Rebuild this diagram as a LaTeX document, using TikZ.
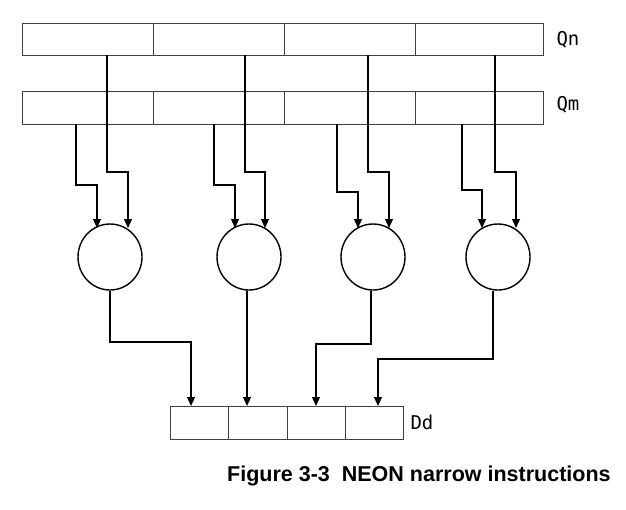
\documentclass[tikz,border=0pt]{standalone}
\usepackage{fontspec}
\setmainfont{Liberation Sans}
\newfontfamily\lblfont{DejaVu Sans Mono}
\usetikzlibrary{arrows.meta,shapes.geometric}
\begin{document}
\begin{tikzpicture}[x=1pt,y=-1pt,
  reg/.style={draw=black!75,line width=1.2pt},
  op/.style={draw,line width=1.4pt,ellipse,minimum width=64pt,minimum height=66pt,inner sep=0pt},
  wire/.style={line width=1.1pt},
  arr/.style={wire,-{Triangle[length=9pt,width=8pt]}},
  lbl/.style={font=\lblfont\fontsize{19}{22}\selectfont,anchor=west}]
\useasboundingbox (0,0) rectangle (626,509);
% Qn
\foreach \i/\a/\b in {1/22/153,2/153/284,3/284/415,4/415/543}
  \node[reg,minimum width={\b-\a},minimum height=32pt,inner sep=0pt,anchor=north west] (n\i) at (\a,23) {};
\foreach \i/\a/\b in {1/22/153,2/153/284,3/284/415,4/415/543}
  \node[reg,minimum width={\b-\a},minimum height=33pt,inner sep=0pt,anchor=north west] (m\i) at (\a,91) {};
\node[lbl] (qn) at (553,40) {Qn};
\node[lbl] (qm) at (553,105) {Qm};
% circles
\foreach \i/\x in {1/110,2/249,3/373,4/498}
  \node[op] (c\i) at (\x,257) {};
% Qn wires
\foreach \i/\x/\t in {1/107/128,2/245/265,3/368/389,4/495/516}{
  \coordinate (na\i) at (\x,55);
  \coordinate (nb\i) at (\x,172);
  \coordinate (nc\i) at (\t,172);
  \coordinate (nd\i) at (\t,228);
  \draw[arr] (na\i) -- (nb\i) -- (nc\i) -- (nd\i);
}
% Qm wires
\foreach \i/\x/\y/\t in {1/76/185/97,2/214/185/235,3/337/192/358,4/462/190/482}{
  \coordinate (ma\i) at (\x,124);
  \coordinate (mb\i) at (\x,\y);
  \coordinate (mc\i) at (\t,\y);
  \coordinate (md\i) at (\t,228);
  \draw[arr] (ma\i) -- (mb\i) -- (mc\i) -- (md\i);
}
% Dd
\foreach \i/\a/\b in {1/170/228,2/228/287,3/287/345,4/345/403}
  \node[reg,minimum width={\b-\a},minimum height=33pt,inner sep=0pt,anchor=north west] (d\i) at (\a,406) {};
\node[lbl] (dd) at (407,422) {Dd};
% outputs
\coordinate (o1a) at (110,342); \coordinate (o1b) at (191,342); \coordinate (o1c) at (191,406);
\draw[arr] (c1.south) -- (o1a) -- (o1b) -- (o1c);
\coordinate (o2c) at (247,406);
\draw[arr] (c2.south -| o2c) -- (o2c);
\coordinate (o3a) at (371,344); \coordinate (o3b) at (316,344); \coordinate (o3c) at (316,406);
\draw[arr] (c3.south -| o3a) -- (o3a) -- (o3b) -- (o3c);
\coordinate (o4a) at (493,359); \coordinate (o4b) at (378,359); \coordinate (o4c) at (378,406);
\draw[arr] (c4.south -| o4a) -- (o4a) -- (o4b) -- (o4c);
\node[font=\bfseries\fontsize{21.5}{24}\selectfont,anchor=west,inner sep=0pt] (cap) at (227,476) {Figure 3-3\ \ NEON narrow instructions};
\end{tikzpicture}
\end{document}
